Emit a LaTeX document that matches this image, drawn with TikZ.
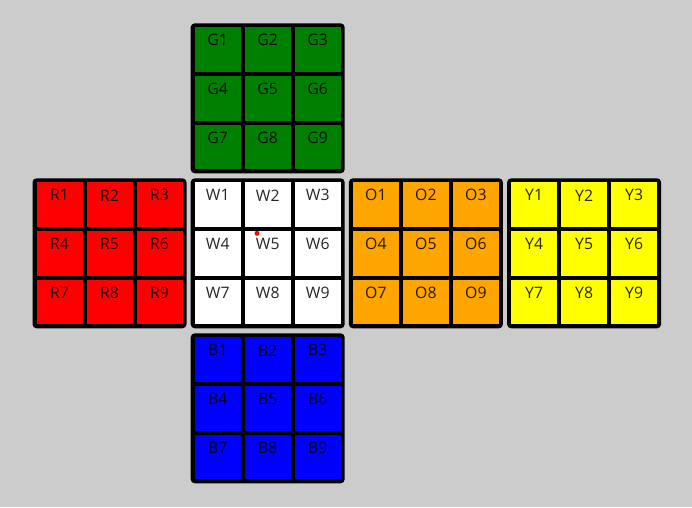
\documentclass[tikz,border=0pt]{standalone}
\usepackage{fontspec}
\setmainfont{Open Sans}
\definecolor{bggray}{HTML}{CCCCCC}
\definecolor{cgreen}{HTML}{008000}
\definecolor{cred}{HTML}{FF0000}
\definecolor{cwhite}{HTML}{FFFFFF}
\definecolor{corange}{HTML}{FFA500}
\definecolor{cyellow}{HTML}{FFFF00}
\definecolor{cblue}{HTML}{0000FF}
\newcommand\cubeface[5]{%
  \node[facebox] (face#5) at (#2,#3) {};
  \foreach \r in {0,1,2}{\foreach \c in {0,1,2}{%
    \pgfmathtruncatemacro\k{3*\r+\c+1}%
    \node[cell, fill=#4, label={[lab,anchor=center,yshift=-13pt]north:#5\k}] (#5\k) at ({#2+4+50*\c},{#3+4+48.67*\r}) {};
  }}%
}
\begin{document}
\begin{tikzpicture}[x=1pt,y=-1pt,
  facebox/.style={fill=black, rounded corners=4pt, draw=none, anchor=north west, minimum width=154pt, minimum height=150pt, inner sep=0pt, outer sep=0pt},
  cell/.style={anchor=north west, minimum width=46pt, minimum height=44.67pt, inner sep=0pt, outer sep=0pt, draw=none},
  lab/.style={font=\fontsize{15.8}{18}\selectfont, text=black, text opacity=0.85, inner sep=0pt}]
\fill[bggray] (0,0) rectangle (692,507);
\useasboundingbox (0,0) rectangle (692,507);
\cubeface{G}{190.7}{23.3}{cgreen}{G}
\cubeface{R}{32.5}{178.3}{cred}{R}
\cubeface{W}{190.7}{178.3}{cwhite}{W}
\cubeface{O}{348.9}{178.3}{corange}{O}
\cubeface{Y}{507.1}{178.3}{cyellow}{Y}
\cubeface{B}{190.7}{333.3}{cblue}{B}
\node[circle, fill=cred, inner sep=0pt, minimum size=5pt] (dot) at (257,233.3) {};
\end{tikzpicture}
\end{document}
